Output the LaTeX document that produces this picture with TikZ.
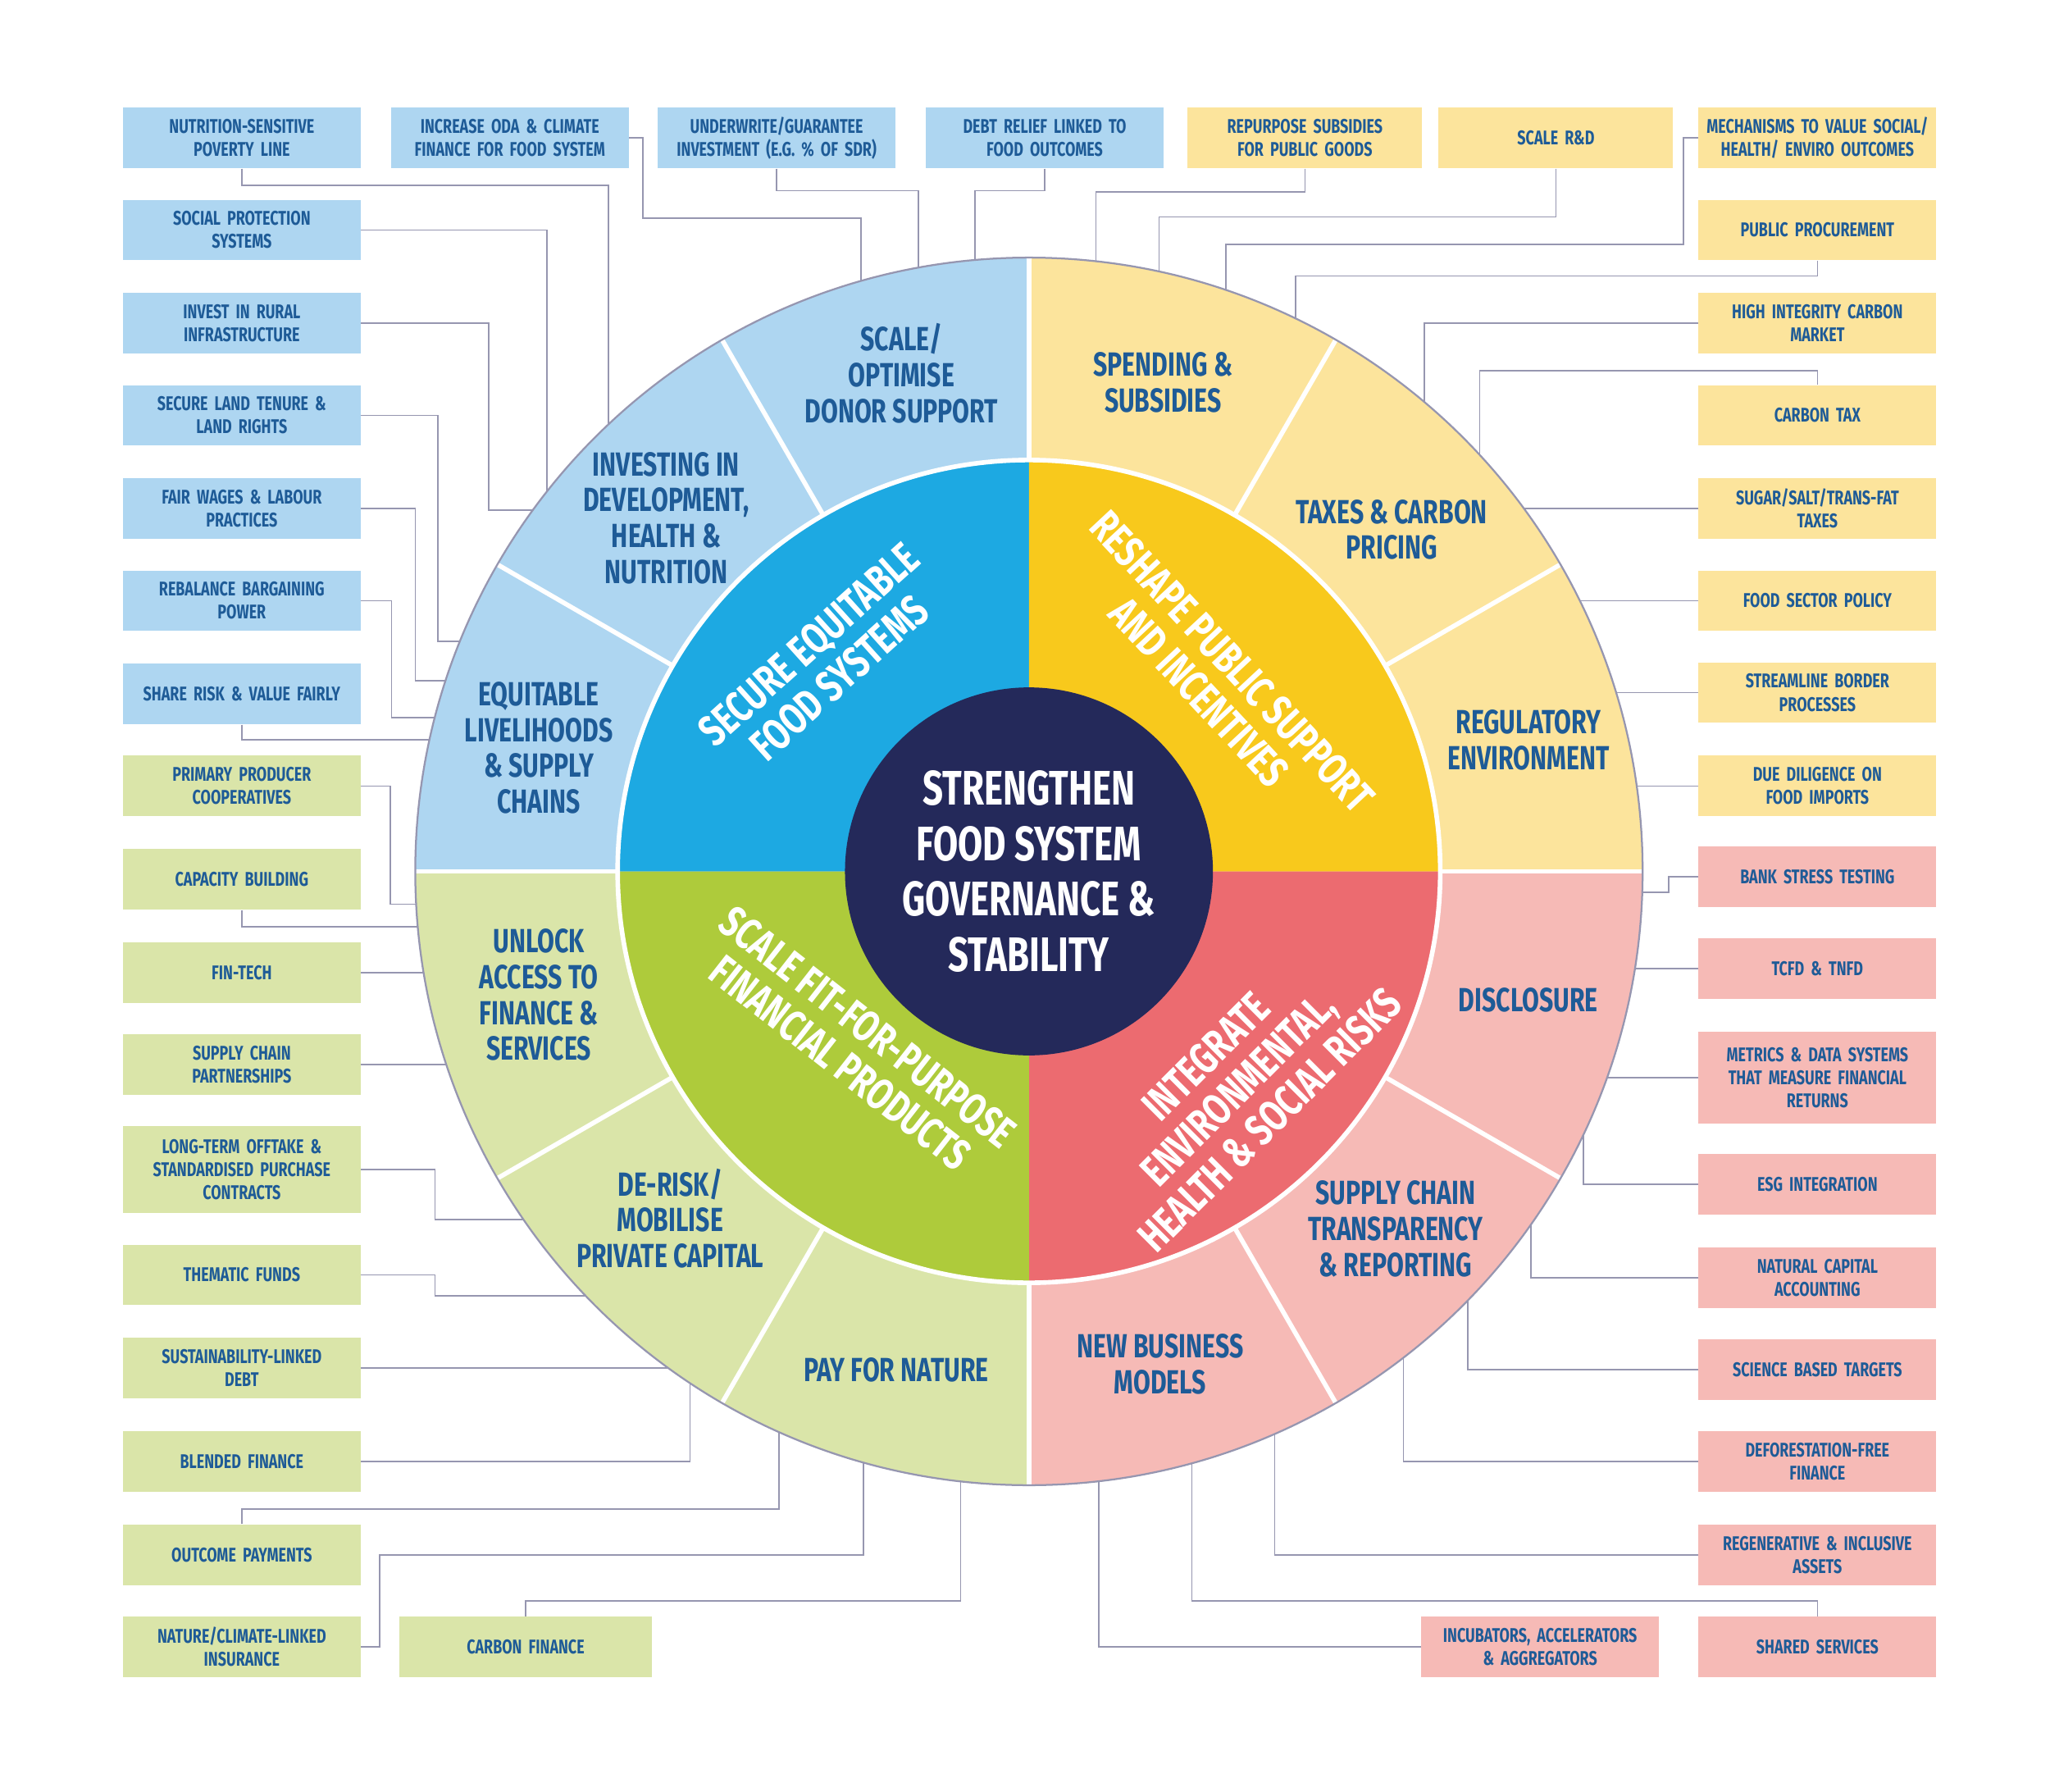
\documentclass[tikz,border=0pt]{standalone}
\usepackage{fontspec}
\setmainfont{Fira Sans}[FakeStretch=0.74]
\usetikzlibrary{positioning, calc}

\definecolor{blueL}{HTML}{AED6F1}
\definecolor{yellowL}{HTML}{FCE49C}
\definecolor{pinkL}{HTML}{F6BAB6}
\definecolor{greenL}{HTML}{DAE5A9}
\definecolor{blueD}{HTML}{1DA9E2}
\definecolor{yellowD}{HTML}{F8C91C}
\definecolor{redD}{HTML}{EC6B70}
\definecolor{greenD}{HTML}{AECB3B}
\definecolor{navy}{HTML}{24295A}
\definecolor{txt}{HTML}{1E5B97}
\definecolor{wire}{HTML}{9696B0}

\tikzset{
  box/.style={minimum width=3.62cm, minimum height=0.92cm, text width=3.5cm,
    align=center, inner sep=1pt, text=txt, font=\bfseries\fontsize{8.6}{10}\selectfont},
  seclab/.style={align=center, text=txt, font=\bfseries\fontsize{14.5}{15.5}\selectfont},
  quadlab/.style={align=center, text=white, font=\bfseries\fontsize{19}{19.5}\selectfont},
  wire/.style={draw=wire, line width=0.6pt}
}

\begin{document}
\begin{tikzpicture}[x=0.02cm, y=-0.02cm]
  \useasboundingbox (0,0) rectangle (1560,1363);
  \coordinate (c) at (783,663);

  % top row
  \node[box, fill=blueL] (n01) at (184,105) {NUTRITION-SENSITIVE\\POVERTY LINE};
  \node[box, fill=blueL] (n02) at (388,105) {INCREASE ODA \& CLIMATE\\FINANCE FOR FOOD SYSTEM};
  \node[box, fill=blueL] (n03) at (591,105) {UNDERWRITE/GUARANTEE\\INVESTMENT (E.G. \% OF SDR)};
  \node[box, fill=blueL] (n04) at (795,105) {DEBT RELIEF LINKED TO\\FOOD OUTCOMES};
  \node[box, fill=yellowL, minimum width=3.42cm] (n05) at (993,105) {REPURPOSE SUBSIDIES\\FOR PUBLIC GOODS};
  \node[box, fill=yellowL, minimum width=3.38cm] (n06) at (1184,105) {SCALE R\&D};
  \node[box, fill=yellowL] (r01) at (1383,105) {MECHANISMS TO VALUE SOCIAL/\\HEALTH/ ENVIRO OUTCOMES};

  % left column
  \node[box, fill=blueL] (l02) at (184,175) {SOCIAL PROTECTION\\SYSTEMS};
  \node[box, fill=blueL] (l03) at (184,246) {INVEST IN RURAL\\INFRASTRUCTURE};
  \node[box, fill=blueL] (l04) at (184,316) {SECURE LAND TENURE \&\\LAND RIGHTS};
  \node[box, fill=blueL] (l05) at (184,387) {FAIR WAGES \& LABOUR\\PRACTICES};
  \node[box, fill=blueL] (l06) at (184,457) {REBALANCE BARGAINING\\POWER};
  \node[box, fill=blueL] (l07) at (184,528) {SHARE RISK \& VALUE FAIRLY};
  \node[box, fill=greenL] (l08) at (184,598) {PRIMARY PRODUCER\\COOPERATIVES};
  \node[box, fill=greenL] (l09) at (184,669) {CAPACITY BUILDING};
  \node[box, fill=greenL] (l10) at (184,740) {FIN-TECH};
  \node[box, fill=greenL] (l11) at (184,810) {SUPPLY CHAIN\\PARTNERSHIPS};
  \node[box, fill=greenL, minimum height=1.32cm] (l12) at (184,890) {LONG-TERM OFFTAKE \&\\STANDARDISED PURCHASE\\CONTRACTS};
  \node[box, fill=greenL] (l13) at (184,970) {THEMATIC FUNDS};
  \node[box, fill=greenL] (l14) at (184,1041) {SUSTAINABILITY-LINKED\\DEBT};
  \node[box, fill=greenL] (l15) at (184,1112) {BLENDED FINANCE};
  \node[box, fill=greenL] (l16) at (184,1183) {OUTCOME PAYMENTS};
  \node[box, fill=greenL] (l17) at (184,1253) {NATURE/CLIMATE-LINKED\\INSURANCE};
  \node[box, fill=greenL, minimum width=3.84cm] (b01) at (400,1253) {CARBON FINANCE};

  % right column
  \node[box, fill=yellowL] (r02) at (1383,175) {PUBLIC PROCUREMENT};
  \node[box, fill=yellowL] (r03) at (1383,246) {HIGH INTEGRITY CARBON\\MARKET};
  \node[box, fill=yellowL] (r04) at (1383,316) {CARBON TAX};
  \node[box, fill=yellowL] (r05) at (1383,387) {SUGAR/SALT/TRANS-FAT\\TAXES};
  \node[box, fill=yellowL] (r06) at (1383,457) {FOOD SECTOR POLICY};
  \node[box, fill=yellowL] (r07) at (1383,527) {STREAMLINE BORDER\\PROCESSES};
  \node[box, fill=yellowL] (r08) at (1383,598) {DUE DILIGENCE ON\\FOOD IMPORTS};
  \node[box, fill=pinkL] (r09) at (1383,667) {BANK STRESS TESTING};
  \node[box, fill=pinkL] (r10) at (1383,737) {TCFD \& TNFD};
  \node[box, fill=pinkL, minimum height=1.4cm] (r11) at (1383,820) {METRICS \& DATA SYSTEMS\\THAT MEASURE FINANCIAL\\RETURNS};
  \node[box, fill=pinkL] (r12) at (1383,901) {ESG INTEGRATION};
  \node[box, fill=pinkL] (r13) at (1383,972) {NATURAL CAPITAL\\ACCOUNTING};
  \node[box, fill=pinkL] (r14) at (1383,1042) {SCIENCE BASED TARGETS};
  \node[box, fill=pinkL] (r15) at (1383,1112) {DEFORESTATION-FREE\\FINANCE};
  \node[box, fill=pinkL] (r16) at (1383,1183) {REGENERATIVE \& INCLUSIVE\\ASSETS};
  \node[box, fill=pinkL] (r17) at (1383,1253) {SHARED SERVICES};
  \node[box, fill=pinkL] (b02) at (1172,1253) {INCUBATORS, ACCELERATORS\\\& AGGREGATORS};

  % connectors (run in under the wheel)
  \draw[wire] (n01.south) |- (463,141) -- (463,330);
  \draw[wire] (n02.east) -| (489,166) -| (655,220);
  \draw[wire] (n03.south) |- (699,145) -- (699,210);
  \draw[wire] (n04.south) |- (742,145) -- (742,205);
  \draw[wire] (n05.south) |- (834,146) -- (834,205);
  \draw[wire] (n06.south) |- (882,165) -- (882,212);
  \draw[wire] (r01.west) -| (1281,186) -| (933,226);
  \draw[wire] (r02.south) |- (986,210) -- (986,248);
  \draw[wire] (r03.west) -| (1084,310);
  \draw[wire] (r04.north) |- (1126,282) -- (1126,350);
  \draw[wire] (r05.west) -- (1155,387);
  \draw[wire] (r06.west) -- (1198,457);
  \draw[wire] (r07.west) -- (1226,527);
  \draw[wire] (r08.west) -- (1242,598);
  \draw[wire] (r09.west) -| (1270,679) -- (1245,679);
  \draw[wire] (r10.west) -- (1240,737);
  \draw[wire] (r11.west) -- (1219,820);
  \draw[wire] (r12.west) -| (1205,858);
  \draw[wire] (r13.west) -| (1165,928);
  \draw[wire] (r14.west) -| (1117,985);
  \draw[wire] (r15.west) -| (1068,1029);
  \draw[wire] (r16.west) -| (970,1087);
  \draw[wire] (r17.north) |- (907,1218) -- (907,1108);
  \draw[wire] (b02.west) -| (836,1122);
  \draw[wire] (b01.north) |- (731,1218) -- (731,1122);
  \draw[wire] (l17.east) -| (289,1183) -| (657,1108);
  \draw[wire] (l16.north) |- (593,1148) -- (593,1085);
  \draw[wire] (l15.east) -| (525,1048);
  \draw[wire] (l14.east) -- (515,1041);
  \draw[wire] (l13.east) -| (331,986) -- (450,986);
  \draw[wire] (l12.east) -| (331,928) -- (402,928);
  \draw[wire] (l11.east) -- (344,810);
  \draw[wire] (l10.east) -- (326,740);
  \draw[wire] (l09.south) |- (322,705);
  \draw[wire] (l08.east) -| (297,688) -- (322,688);
  \draw[wire] (l07.south) |- (331,563);
  \draw[wire] (l06.east) -| (298,546) -- (335,546);
  \draw[wire] (l05.east) -| (316,518) -- (343,518);
  \draw[wire] (l04.east) -| (333,488) -- (354,488);
  \draw[wire] (l03.east) -| (372,388) -- (410,388);
  \draw[wire] (l02.east) -| (416,378);

  % wheel
  \fill[blueL] (c) -- ++(-90:467) arc[start angle=-90, end angle=-180, radius=467] -- cycle;
  \fill[yellowL] (c) -- ++(0:467) arc[start angle=0, end angle=-90, radius=467] -- cycle;
  \fill[pinkL] (c) -- ++(0:467) arc[start angle=0, end angle=90, radius=467] -- cycle;
  \fill[greenL] (c) -- ++(90:467) arc[start angle=90, end angle=180, radius=467] -- cycle;
  \foreach \a in {0,30,...,330}
    \draw[white, line width=2pt] ($(c)+(\a:313)$) -- ($(c)+(\a:467)$);
  \draw[wire, line width=0.8pt] (c) circle[radius=467];
  \fill[blueD] (c) -- ++(-90:313) arc[start angle=-90, end angle=-180, radius=313] -- cycle;
  \fill[yellowD] (c) -- ++(0:313) arc[start angle=0, end angle=-90, radius=313] -- cycle;
  \fill[redD] (c) -- ++(0:313) arc[start angle=0, end angle=90, radius=313] -- cycle;
  \fill[greenD] (c) -- ++(90:313) arc[start angle=90, end angle=180, radius=313] -- cycle;
  \draw[white, line width=2pt] (c) circle[radius=313];
  \fill[navy] (c) circle[radius=140];

  \node[align=center, text=white, font=\bfseries\fontsize{21}{24}\selectfont] (hub) at (c)
    {STRENGTHEN\\FOOD SYSTEM\\GOVERNANCE \&\\STABILITY};

  \node[quadlab, rotate=42] (q1) at (627,503) {SECURE EQUITABLE\\FOOD SYSTEMS};
  \node[quadlab, rotate=-47] (q2) at (925,515) {RESHAPE PUBLIC SUPPORT\\AND INCENTIVES};
  \node[quadlab, rotate=-38] (q3) at (650,795) {SCALE FIT-FOR-PURPOSE\\FINANCIAL PRODUCTS};
  \node[quadlab, rotate=45] (q4) at (942,828) {INTEGRATE\\ENVIRONMENTAL,\\HEALTH \& SOCIAL RISKS};

  \node[seclab] (s01) at (686,284) {SCALE/\\OPTIMISE\\DONOR SUPPORT};
  \node[seclab] (s02) at (507,394) {INVESTING IN\\DEVELOPMENT,\\HEALTH \&\\NUTRITION};
  \node[seclab] (s03) at (410,569) {EQUITABLE\\LIVELIHOODS\\\& SUPPLY\\CHAINS};
  \node[seclab] (s04) at (885,291) {SPENDING \&\\SUBSIDIES};
  \node[seclab] (s05) at (1059,403) {TAXES \& CARBON\\PRICING};
  \node[seclab] (s06) at (1163,563) {REGULATORY\\ENVIRONMENT};
  \node[seclab] (s07) at (1163,761) {DISCLOSURE};
  \node[seclab] (s08) at (1062,935) {SUPPLY CHAIN\\TRANSPARENCY\\\& REPORTING};
  \node[seclab] (s09) at (883,1038) {NEW BUSINESS\\MODELS};
  \node[seclab] (s10) at (682,1042) {PAY FOR NATURE};
  \node[seclab] (s11) at (510,927) {DE-RISK/\\MOBILISE\\PRIVATE CAPITAL};
  \node[seclab] (s12) at (410,757) {UNLOCK\\ACCESS TO\\FINANCE \&\\SERVICES};
\end{tikzpicture}
\end{document}
